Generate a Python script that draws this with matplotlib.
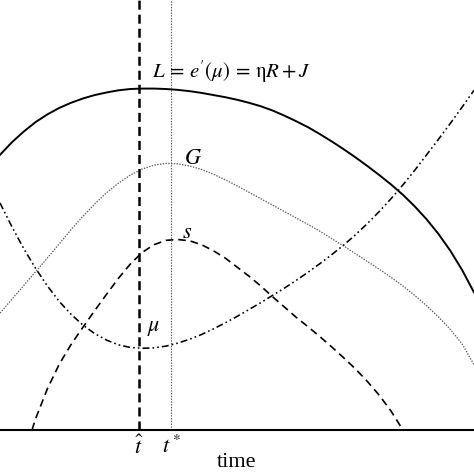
import matplotlib
matplotlib.use("Agg")
import matplotlib.pyplot as plt

plt.rcParams['font.family'] = ['Liberation Serif', 'DejaVu Serif']
plt.rcParams['mathtext.fontset'] = 'stix'
plt.rcParams['lines.scale_dashes'] = False

# time grid (0..100) and curve levels
t_grid = [0, 2.5, 5, 7.5, 10, 12.5, 15, 17.5, 20, 22.5, 25, 27.5, 30, 32.5, 35, 37.5, 40,
          42.5, 45, 47.5, 50, 52.5, 55, 57.5, 60, 62.5, 65, 67.5, 70, 72.5, 75, 77.5, 80,
          82.5, 85, 87.5, 90, 92.5, 95, 97.5, 100]

L_vals = [64.0, 66.9, 69.4, 71.6, 73.4, 74.9, 76.1, 77.1, 77.9, 78.5, 79.0, 79.3, 79.4,
          79.4, 79.3, 79.1, 78.8, 78.4, 77.9, 77.4, 76.8, 76.1, 75.3, 74.3, 73.1, 71.8,
          70.4, 68.8, 67.1, 65.3, 63.4, 61.4, 59.3, 57.1, 54.7, 52.0, 49.0, 45.6, 41.7,
          37.2, 32.0]

G_vals = [27.2, 30.4, 33.6, 36.8, 40.0, 43.3, 46.6, 49.7, 52.6, 55.2, 57.4, 59.3, 60.7,
          61.6, 62.0, 61.9, 61.4, 60.6, 59.5, 58.2, 56.8, 55.3, 53.8, 52.3, 50.8, 49.3,
          47.8, 46.2, 44.5, 42.8, 41.0, 39.2, 37.4, 35.5, 33.5, 31.3, 28.9, 26.3, 23.4,
          20.0, 15.2]

mu_vals = [52.8, 47.3, 42.2, 37.6, 33.5, 29.9, 26.9, 24.4, 22.4, 20.9, 19.8, 19.2, 19.0,
           19.1, 19.5, 20.2, 21.1, 22.2, 23.5, 24.9, 26.4, 28.0, 29.6, 31.3, 33.0, 34.8,
           36.7, 38.7, 40.8, 43.0, 45.4, 48.0, 50.8, 53.8, 57.0, 60.4, 64.0, 67.6, 71.3,
           75.1, 79.0]

s_t = [6.75, 7.5, 10, 12.5, 15, 17.5, 20, 22.5, 25, 27.5, 30, 32.5, 35, 37.5, 40, 42.5,
       45, 47.5, 50, 52.5, 55, 57.5, 60, 62.5, 65, 67.5, 70, 72.5, 75, 77.5, 80, 82.5, 85]
s_vals = [0, 2.6, 9.6, 15.3, 19.9, 23.9, 27.8, 31.6, 35.3, 38.6, 41.3, 43.1, 44.1, 44.3,
          44.0, 43.1, 41.7, 40.0, 37.9, 35.8, 33.5, 31.0, 28.6, 26.2, 24.0, 21.7, 19.3,
          16.8, 14.2, 11.3, 8.1, 4.4, 0]

t_hat = 29.3
t_star = 36.1

fig = plt.figure(figsize=(4.74, 4.74), dpi=100)
ax = fig.add_axes([0, 44 / 474, 1, 430 / 474])

ax.plot(t_grid, L_vals, color='black', lw=1.4)
ax.plot(t_grid, G_vals, color='0.35', lw=0.9, linestyle=(0, (1, 1)))
ax.plot(s_t, s_vals, color='black', lw=1.2, linestyle=(0, (5.5, 3.5)))
ax.plot(t_grid, mu_vals, color='black', lw=1.15,
        linestyle=(0, (5, 2.2, 1.2, 2.2, 1.2, 2.2)))

ax.axvline(t_hat, color='black', lw=1.8, linestyle=(0, (6.5, 3.6)))
ax.axvline(t_star, color='0.35', lw=0.8, linestyle=(0, (1, 1)))

ax.text(32.1, 81.9, r"$L\,=\,e'(\mu)\,=\,\mathrm{\eta} R + J$", fontsize=15, va='baseline')
ax.text(38.9, 61.9, r"$G$", fontsize=16, va='baseline')
ax.text(38.3, 44.7, r"$s$", fontsize=16, va='baseline')
ax.text(31.1, 23.0, r"$\mu$", fontsize=16, va='baseline')

ax.set_xlim(0, 100)
ax.set_ylim(0, 100)
ax.set_yticks([])
ax.set_xticks([t_hat, t_star])
ax.set_xticklabels([r'$\hat{t}$', r'$t^*$'], fontsize=16)
ax.tick_params(axis='x', length=0, pad=4)
ax.set_xlabel('time', fontsize=16, labelpad=-4)

for side in ['top', 'left', 'right']:
    ax.spines[side].set_visible(False)
ax.spines['bottom'].set_linewidth(1.5)

fig.savefig('out.png', dpi=100)
